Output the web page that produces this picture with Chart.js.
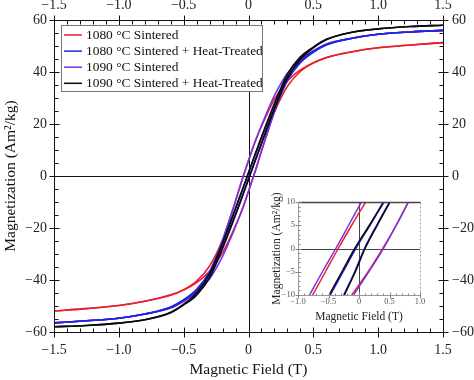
<!DOCTYPE html>
<html><head><meta charset="utf-8">
<script src="https://cdn.jsdelivr.net/npm/chart.js@4/dist/chart.umd.min.js"></script>
<style>
html,body{margin:0;padding:0;background:#fff;}
#wrap{position:relative;width:474px;height:380px;overflow:hidden;}
#main{position:absolute;left:0;top:0;width:474px;height:380px;}
#inset{position:absolute;left:250px;top:190px;width:190px;height:138px;}
</style></head><body>
<div id="wrap"><canvas id="main" width="474" height="380"></canvas><canvas id="inset" width="190" height="138"></canvas></div>
<script>
// ---- data ----
const seriesNames = ['1080 \u00B0C Sintered', '1080 \u00B0C Sintered + Heat-Treated', '1090 \u00B0C Sintered', '1090 \u00B0C Sintered + Heat-Treated'];
const seriesColors = ['rgb(235,30,45)', 'rgb(35,35,225)', 'rgb(120,50,230)', 'rgb(10,10,10)'];
const fieldT = [-1.5,-1.25,-1.0,-0.8,-0.6,-0.5,-0.4,-0.3,-0.2,-0.15,-0.1,-0.05,0,0.05,0.1,0.15,0.2,0.3,0.4,0.5,0.6,0.8,1.0,1.25,1.5];
// descending (from +saturation) and ascending branches, Am^2/kg
const red1080Desc = [-51.9,-51.0,-49.8,-48.2,-45.7,-43.7,-40.4,-34.6,-24.5,-17.3,-9.7,-1.6,5.9,13.1,19.1,24.6,29.5,36.5,40.8,43.6,45.6,47.8,49.3,50.4,51.3];
const red1080Asc  = [-51.9,-51.0,-49.8,-48.2,-45.9,-43.9,-41.0,-36.6,-29.5,-24.6,-19.1,-13.1,-5.9,1.6,9.7,17.3,24.5,34.5,40.2,43.4,45.5,47.8,49.3,50.4,51.3];
const blue1080HTDesc = [-56.5,-55.7,-54.7,-53.1,-50.4,-47.6,-43.6,-36.8,-25.5,-18.9,-12.4,-5.7,1.1,7.9,14.5,20.9,27.3,38.0,44.3,47.9,50.6,53.0,54.5,55.4,56.0];
const blue1080HTAsc  = [-56.5,-55.7,-54.7,-53.1,-50.6,-47.9,-44.3,-38.0,-27.3,-20.9,-14.5,-7.9,-1.1,5.7,12.4,18.9,25.5,36.8,43.6,47.6,50.4,53.0,54.5,55.4,56.0];
const purple1090Desc = [-56.5,-55.7,-54.7,-53.1,-50.5,-47.8,-44.2,-37.2,-24.7,-17.3,-9.5,-1.5,5.9,13.1,19.4,25.4,30.9,39.5,44.9,48.2,50.8,53.0,54.5,55.4,56.0];
const purple1090Asc  = [-56.5,-55.7,-54.7,-53.1,-50.8,-48.2,-44.9,-39.5,-30.9,-25.4,-19.4,-13.1,-5.9,1.5,9.5,17.3,24.7,37.2,44.2,47.8,50.5,53.0,54.5,55.4,56.0];
const black1090HTDesc = [-58.0,-57.5,-56.6,-55.3,-52.4,-49.3,-45.0,-37.6,-25.9,-19.3,-12.5,-5.7,1.3,8.3,15.0,21.6,27.9,39.1,45.8,49.6,52.6,55.3,56.6,57.5,58.0];
const black1090HTAsc  = [-58.0,-57.5,-56.6,-55.3,-52.6,-49.6,-45.8,-39.1,-27.9,-21.6,-15.0,-8.3,-1.3,5.7,12.5,19.3,25.9,37.6,45.0,49.3,52.4,55.3,56.6,57.5,58.0];
const xTickValues = [-1.5,-1.0,-0.5,0,0.5,1.0,1.5];
const yTickValues = [-60,-40,-20,0,20,40,60];
// inset (zoomed loops)
const insetM = [-10,-5,0,5,10];
const insetRedL = [-0.76,-0.55,-0.34,-0.12,0.11];
const insetRedR = [-0.12,0.15,0.39,0.61,0.81];
const insetBlueL = [-0.47,-0.26,-0.05,0.18,0.41];
const insetBlueR = [-0.25,-0.07,0.09,0.29,0.50];
const insetPurpleL = [-0.81,-0.60,-0.38,-0.17,0.04];
const insetPurpleR = [-0.09,0.16,0.40,0.61,0.81];
const insetBlackL = [-0.49,-0.28,-0.07,0.17,0.40];
const insetBlackR = [-0.24,-0.06,0.10,0.30,0.51];
const insetXTicks = [-1.0,-0.5,0,0.5,1.0];
const insetYTicks = [-10,-5,0,5,10];

// ---- helpers ----
const SERIF = '"Liberation Serif","Times New Roman",serif';
const pts = (xs, ys) => xs.map((x, i) => ({x: x, y: ys[i]}));
const ptsYX = (ms, hs) => ms.map((m, i) => ({x: hs[i], y: m}));
const fmtX = v => { if (Math.abs(v) < 1e-9) return '0'; return (v < 0 ? '\u2212' : '') + Math.abs(v).toFixed(1); };
const fmtY = v => { if (Math.abs(v) < 1e-9) return '0'; return (v < 0 ? '\u2212' : '') + Math.abs(Math.round(v)); };
const lineDs = (data, color, order, w) => ({data, borderColor: color, borderWidth: w, showLine: true, pointRadius: 0, fill: false, cubicInterpolationMode: 'monotone', order});

// [desc, asc, colour index, draw order (0 = top)]
const branches = [
  [red1080Desc, red1080Asc, 0, 3],
  [blue1080HTDesc, blue1080HTAsc, 1, 1],
  [purple1090Desc, purple1090Asc, 2, 2],
  [black1090HTDesc, black1090HTAsc, 3, 0]
];
const mainDatasets = [];
branches.forEach(b => {
  mainDatasets.push(lineDs(pts(fieldT, b[0]), seriesColors[b[2]], b[3], 1.6));
  mainDatasets.push(lineDs(pts(fieldT, b[1]), seriesColors[b[2]], b[3], 1.6));
});

function line(ctx, x1, y1, x2, y2) { ctx.beginPath(); ctx.moveTo(x1, y1); ctx.lineTo(x2, y2); ctx.stroke(); }

const mainDeco = {
  id: 'mainDeco',
  beforeDatasetsDraw(chart) {
    const ctx = chart.ctx, a = chart.chartArea, xs = chart.scales.x, ys = chart.scales.y;
    ctx.save(); ctx.strokeStyle = '#111'; ctx.lineWidth = 1;
    const x0 = Math.round(xs.getPixelForValue(0)) + 0.5, y0 = Math.round(ys.getPixelForValue(0)) + 0.5;
    line(ctx, x0, a.top, x0, a.bottom);
    line(ctx, a.left, y0, a.right, y0);
    ctx.restore();
  },
  afterDraw(chart) {
    const ctx = chart.ctx, a = chart.chartArea, xs = chart.scales.x, ys = chart.scales.y;
    ctx.save(); ctx.strokeStyle = '#111'; ctx.lineWidth = 1;
    const L = Math.round(a.left) + 0.5, R = Math.round(a.right) + 0.5, T = Math.round(a.top) + 0.5, B = Math.round(a.bottom) + 0.5;
    ctx.strokeRect(L, T, R - L, B - T);
    for (let i = -15; i <= 15; i++) {
      const px = Math.round(xs.getPixelForValue(i / 10)) + 0.5; const major = i % 5 === 0;
      if (major) { line(ctx, px, B - 5, px, B + 5); line(ctx, px, T - 5, px, T + 5); }
      else { line(ctx, px, B - 4, px, B); line(ctx, px, T, px, T + 4); }
    }
    for (let i = -60; i <= 60; i += 5) {
      const py = Math.round(ys.getPixelForValue(i)) + 0.5; const major = i % 20 === 0;
      if (major) { line(ctx, L - 5, py, L + 5, py); line(ctx, R - 5, py, R + 5, py); }
      else { line(ctx, L, py, L + 4, py); line(ctx, R - 4, py, R, py); }
    }
    // legend
    const bx = 61.5, by = 25.5, bw = 201, bh = 66;
    ctx.fillStyle = '#fff'; ctx.fillRect(bx, by, bw, bh);
    ctx.strokeStyle = '#777'; ctx.strokeRect(bx, by, bw, bh);
    ctx.font = '13.4px ' + SERIF; ctx.textBaseline = 'middle'; ctx.textAlign = 'left';
    seriesNames.forEach((n, i) => {
      const y = 35 + i * 16.1;
      ctx.strokeStyle = seriesColors[i]; ctx.lineWidth = 1.5; line(ctx, 64, y, 82, y);
      ctx.fillStyle = '#111'; ctx.fillText(n, 86, y + 0.5);
    });
    ctx.restore();
  }
};

const tickFont = {family: SERIF, size: 14};
const titleFont = {family: SERIF, size: 15.5};
const noGrid = {display: false, drawTicks: false};
const xTicks = (pad) => ({font: tickFont, color: '#222', padding: pad, maxRotation: 0, autoSkip: false, callback: v => fmtX(v)});
const yTicks = (pad) => ({font: tickFont, color: '#222', padding: pad, autoSkip: false, callback: v => fmtY(v)});
const xAfterBuild = s => { s.ticks = xTickValues.map(v => ({value: v})); };
const yAfterBuild = s => { s.ticks = yTickValues.map(v => ({value: v})); };

new Chart(document.getElementById('main'), {
  type: 'scatter',
  data: {datasets: mainDatasets},
  options: {
    responsive: false, animation: false, devicePixelRatio: 1,
    layout: {padding: 0},
    plugins: {legend: {display: false}, tooltip: {enabled: false}},
    scales: {
      x: {type: 'linear', position: 'bottom', min: -1.5, max: 1.5, grid: noGrid, border: {display: false},
          ticks: xTicks(10), afterBuildTicks: xAfterBuild,
          title: {display: true, text: 'Magnetic Field (T)', font: titleFont, color: '#111', padding: {top: 0, bottom: 1}},
          afterFit: s => { s.height = 48; }},
      x2: {type: 'linear', position: 'top', min: -1.5, max: 1.5, grid: noGrid, border: {display: false},
          ticks: xTicks(6), afterBuildTicks: xAfterBuild, afterFit: s => { s.height = 20; }},
      y: {type: 'linear', position: 'left', min: -60, max: 60, grid: noGrid, border: {display: false},
          ticks: yTicks(7), afterBuildTicks: yAfterBuild,
          title: {display: true, text: 'Magnetization (Am\u00B2/kg)', font: titleFont, color: '#111', padding: {top: 2, bottom: 0}},
          afterFit: s => { s.width = 54; }},
      y2: {type: 'linear', position: 'right', min: -60, max: 60, grid: noGrid, border: {display: false},
          ticks: yTicks(9), afterBuildTicks: yAfterBuild, afterFit: s => { s.width = 31; }}
    }
  },
  plugins: [mainDeco]
});

// ---- inset ----
const insetDatasets = [
  lineDs(ptsYX(insetM, insetRedL), seriesColors[0], 3, 1.5),
  lineDs(ptsYX(insetM, insetRedR), seriesColors[0], 3, 1.5),
  lineDs(ptsYX(insetM, insetBlueL), seriesColors[1], 2, 1.5),
  lineDs(ptsYX(insetM, insetBlueR), seriesColors[1], 2, 1.5),
  lineDs(ptsYX(insetM, insetPurpleL), seriesColors[2], 1, 1.5),
  lineDs(ptsYX(insetM, insetPurpleR), seriesColors[2], 1, 1.5),
  lineDs(ptsYX(insetM, insetBlackL), seriesColors[3], 0, 1.5),
  lineDs(ptsYX(insetM, insetBlackR), seriesColors[3], 0, 1.5)
];
const insetDeco = {
  id: 'insetDeco',
  beforeDatasetsDraw(chart) {
    const ctx = chart.ctx, a = chart.chartArea, xs = chart.scales.x, ys = chart.scales.y;
    ctx.save(); ctx.strokeStyle = '#444'; ctx.lineWidth = 1;
    const x0 = Math.round(xs.getPixelForValue(0)) + 0.5, y0 = Math.round(ys.getPixelForValue(0)) + 0.5;
    line(ctx, x0, a.top, x0, a.bottom);
    line(ctx, a.left, y0, a.right, y0);
    ctx.restore();
  },
  afterDraw(chart) {
    const ctx = chart.ctx, a = chart.chartArea, xs = chart.scales.x, ys = chart.scales.y;
    ctx.save(); ctx.lineWidth = 1;
    const L = Math.round(a.left) + 0.5, R = Math.round(a.right) + 0.5, T = Math.round(a.top) + 0.5, B = Math.round(a.bottom) + 0.5;
    ctx.strokeStyle = '#999';
    line(ctx, L, T, L, B); line(ctx, L, B, R, B);
    ctx.setLineDash([2, 2]); line(ctx, R, T, R, B); ctx.setLineDash([]);
    ctx.strokeStyle = '#444'; ctx.lineWidth = 1.5; line(ctx, L, T, R, T);
    ctx.lineWidth = 1; ctx.strokeStyle = '#888';
    for (let i = -10; i <= 10; i++) {
      const py = Math.round(ys.getPixelForValue(i)) + 0.5; const major = i % 5 === 0;
      line(ctx, L - (major ? 3 : 0), py, L + (major ? 3 : 2), py);
    }
    for (let i = -10; i <= 10; i++) {
      const px = Math.round(xs.getPixelForValue(i / 10)) + 0.5; const major = i % 5 === 0;
      line(ctx, px, B + (major ? 3 : 0), px, B - (major ? 3 : 2));
    }
    ctx.restore();
  }
};
const insetTickFont = {family: SERIF, size: 8.5};
const insetTitleFont = {family: SERIF, size: 11.5};
new Chart(document.getElementById('inset'), {
  type: 'scatter',
  data: {datasets: insetDatasets},
  options: {
    responsive: false, animation: false, devicePixelRatio: 1,
    layout: {padding: {top: 12, right: 20, left: 0, bottom: 0}},
    plugins: {legend: {display: false}, tooltip: {enabled: false}},
    scales: {
      x: {type: 'linear', position: 'bottom', min: -1, max: 1, grid: noGrid, border: {display: false},
          ticks: {font: insetTickFont, color: '#555', padding: 2, maxRotation: 0, autoSkip: false, callback: v => fmtX(v)},
          afterBuildTicks: s => { s.ticks = insetXTicks.map(v => ({value: v})); },
          title: {display: true, text: 'Magnetic Field (T)', font: insetTitleFont, color: '#222', padding: {top: 0, bottom: 4}},
          afterFit: s => { s.height = 33; }},
      y: {type: 'linear', position: 'left', min: -10, max: 10, grid: noGrid, border: {display: false},
          ticks: {font: insetTickFont, color: '#555', padding: 3, autoSkip: false, callback: v => fmtY(v)},
          afterBuildTicks: s => { s.ticks = insetYTicks.map(v => ({value: v})); },
          title: {display: true, text: 'Magnetization (Am\u00B2/kg)', font: insetTitleFont, color: '#222', padding: {top: 20, bottom: 0}},
          afterFit: s => { s.width = 48; }}
    }
  },
  plugins: [insetDeco]
});
</script>
</body></html>
